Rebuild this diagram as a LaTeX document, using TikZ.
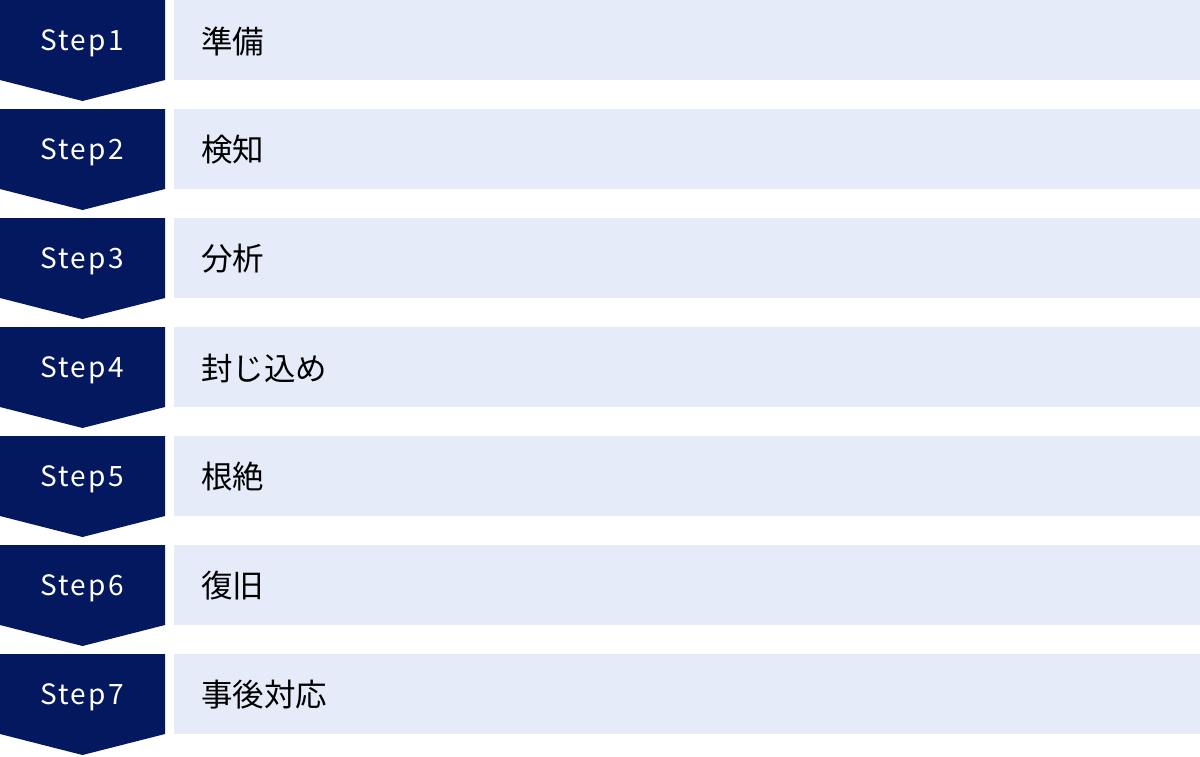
\documentclass[tikz,border=0pt]{standalone}
\usepackage{fontspec}
\setmainfont{Noto Sans CJK JP}
\definecolor{navy}{RGB}{4,24,96}
\definecolor{pale}{RGB}{229,235,248}
\tikzset{
  chev/.style={fill=navy, draw=none},
  band/.style={fill=pale, draw=none, minimum width=1026pt, minimum height=80pt, anchor=north west, inner sep=0pt},
  steplbl/.style={text=white, font=\fontsize{28}{32}\selectfont\addfontfeature{LetterSpace=8}, anchor=center, inner sep=0pt},
  title/.style={text=black, font=\fontsize{31.5}{36}\selectfont, anchor=west, inner sep=0pt}
}
\begin{document}
\begin{tikzpicture}[x=1pt,y=-1pt]
\useasboundingbox (0,0) rectangle (1200,756);
\foreach \i/\t in {1/準備,2/検知,3/分析,4/封じ込め,5/根絶,6/復旧,7/事後対応}{
  \pgfmathsetmacro{\yy}{(\i-1)*109}
  \fill[chev] (0,\yy) -- (165,\yy) -- (165,\yy+80) -- (82.5,\yy+101) -- (0,\yy+80) -- cycle;
  \node[band] (b\i) at (174,\yy) {};
  \node[steplbl] (s\i) at (82,\yy+43) {Step\i};
  \node[title] (t\i) at (201,\yy+41) {\t};
}
\end{tikzpicture}
\end{document}
